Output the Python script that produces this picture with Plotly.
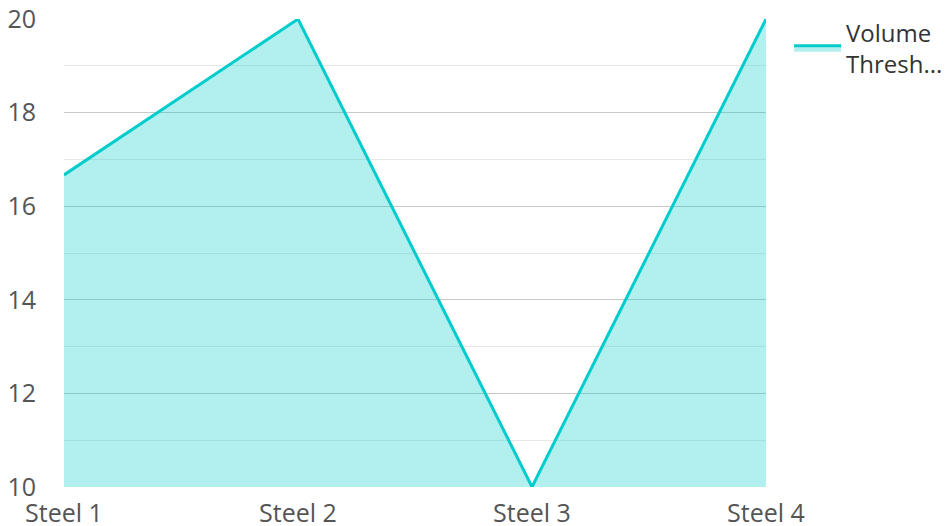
import plotly.graph_objects as go

categories = ["Steel 1", "Steel 2", "Steel 3", "Steel 4"]
volume_threshold = [16.67, 20, 10, 20]
y_ticks = [10, 12, 14, 16, 18, 20]

fig = go.Figure()
fig.add_trace(go.Scatter(
    x=categories, y=volume_threshold, name="Volume<br>Thresh...",
    mode="lines", line=dict(color="#00cccc", width=3),
    fill="tozeroy", fillcolor="rgba(0,204,204,0.3)",
))

fig.update_layout(
    width=944, height=518,
    margin=dict(l=56, r=186, t=11, b=39, autoexpand=False),
    plot_bgcolor="white", paper_bgcolor="white",
    font=dict(family="Open Sans", size=25, color="#555555"),
    showlegend=True,
    legend=dict(x=1.0328, y=1.019, yanchor="top",
                xanchor="left", itemwidth=47,
                font=dict(size=24, color="#333333"),
                bgcolor="rgba(0,0,0,0)"),
)
fig.update_xaxes(range=[0, 3], showgrid=False, zeroline=False, showline=False,
                 automargin=False, ticklabeloverflow="allow",
                 ticks="outside", ticklen=4, tickcolor="rgba(0,0,0,0)")
fig.update_yaxes(range=[9.998, 20.002], tickvals=y_ticks, showgrid=True,
                 automargin=False, ticklabeloverflow="allow",
                 gridcolor="#c8c8c8", gridwidth=1, zeroline=False, showline=False,
                 ticks="outside", ticklen=22, tickcolor="rgba(0,0,0,0)",
                 minor=dict(dtick=1, showgrid=True, gridcolor="#e8e8e8"))

fig.write_html("out.html")
